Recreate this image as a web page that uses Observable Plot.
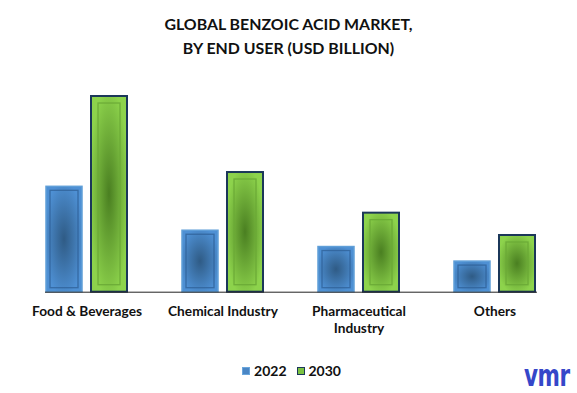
<!DOCTYPE html>
<html>
<head>
<meta charset="utf-8">
<script src="https://cdn.jsdelivr.net/npm/d3@7"></script>
<script src="https://cdn.jsdelivr.net/npm/@observablehq/plot@0.6"></script>
<style>
  html, body { margin: 0; padding: 0; background: #fff; }
  #wrap { position: relative; width: 577px; height: 393px; overflow: hidden; font-family: Lato, "Open Sans", sans-serif; color: #111; }
  #title { position: absolute; left: 0; top: 0; width: 577px; text-align: center; font-weight: 700; font-size: 15.9px; line-height: 24px; padding-top: 12px; }
  #chart { position: absolute; left: 0; top: 70px; }
  #legend { position: absolute; top: 362px; left: 0; width: 577px; display: flex; justify-content: center; align-items: center; font-weight: 700; font-size: 14px; padding-left: 6px; box-sizing: border-box; }
  .item { display: flex; align-items: center; margin: 0 5px; }
  .sw { width: 8px; height: 8px; margin-right: 4px; box-sizing: border-box; }
  #logo { position: absolute; left: 522px; top: 340px; }
</style>
</head>
<body>
<div id="wrap">
  <div id="title">GLOBAL BENZOIC ACID MARKET,<br>BY END USER (USD BILLION)</div>
  <div id="chart"></div>
  <div id="legend"></div>
  <svg id="logo" width="54" height="53"><text transform="translate(2,45.5) scale(1,1.4)" font-family="DejaVu Sans" font-weight="700" font-size="21.5" letter-spacing="-0.5" fill="#3547c9">vmr</text></svg>
</div>
<script>
const categories = ["Food & Beverages", "Chemical Industry", "Pharmaceutical Industry", "Others"];
const tickLabels = ["Food & Beverages", "Chemical Industry", "Pharmaceutical\nIndustry", "Others"];
const years = ["2022", "2030"];
const values2022 = [0.42, 0.245, 0.18, 0.122];
const values2030 = [0.78, 0.477, 0.315, 0.226];

const rows = [];
categories.forEach((c, i) => {
  rows.push({category: c, year: years[0], value: values2022[i]});
  rows.push({category: c, year: years[1], value: values2030[i]});
});
const rows2022 = rows.filter(d => d.year === years[0]);
const rows2030 = rows.filter(d => d.year === years[1]);

const plot = Plot.plot({
  width: 577,
  height: 280,
  marginTop: 26,
  marginBottom: 58.3,
  marginLeft: 17,
  marginRight: 13.5,
  style: {fontFamily: "Lato, 'Open Sans', sans-serif", fontSize: "13.7px", fontWeight: 700, color: "#111", background: "transparent"},
  fx: {domain: categories, paddingInner: 0.388, paddingOuter: 0.194, axis: null},
  x: {domain: years, paddingInner: 0.19, paddingOuter: 0, axis: null},
  y: {domain: [0, d3.max(values2030)], axis: null},
  marks: [
    Plot.barY(rows2022, {fx: "category", x: "year", y: "value", inset: 0, fill: "url(#grad2022)", stroke: "#5f9fd8", strokeWidth: 1.5}),
    Plot.barY(rows2022, {fx: "category", x: "year", y: "value", inset: 4, fill: "none", stroke: "#2f6299", strokeWidth: 1.3, strokeOpacity: 0.8}),
    Plot.barY(rows2030, {fx: "category", x: "year", y: "value", inset: 0, fill: "url(#grad2030)", stroke: "#1b3759", strokeWidth: 2}),
    Plot.barY(rows2030, {fx: "category", x: "year", y: "value", inset: 7, fill: "none", stroke: "#6aaa36", strokeWidth: 1.3, strokeOpacity: 0.9}),
    Plot.frame({facet: "super", anchor: "bottom", stroke: "#222", strokeWidth: 1}),
    Plot.axisFx({anchor: "bottom", tickSize: 0, tickPadding: 11.8, label: null, fontSize: 13.7, lineHeight: 1.24,
      tickFormat: d => tickLabels[categories.indexOf(d)]})
  ]
});

const svg = d3.select(plot);
const defs = svg.insert("defs", ":first-child");
const g1 = defs.append("radialGradient").attr("id", "grad2022").attr("cx", "50%").attr("cy", "50%").attr("r", "55%");
g1.append("stop").attr("offset", "0%").attr("stop-color", "#2f5b85");
g1.append("stop").attr("offset", "100%").attr("stop-color", "#4e90d4");
const g2 = defs.append("radialGradient").attr("id", "grad2030").attr("cx", "50%").attr("cy", "50%").attr("r", "55%");
g2.append("stop").attr("offset", "0%").attr("stop-color", "#4a7f21");
g2.append("stop").attr("offset", "100%").attr("stop-color", "#8dd34c");

document.getElementById("chart").appendChild(plot);

const legend = d3.select("#legend");
const swatches = [{label: years[0], fill: "#4a86c5", stroke: "#6aa6dc"}, {label: years[1], fill: "#7cc242", stroke: "#1b3759"}];
swatches.forEach(s => {
  const item = legend.append("div").attr("class", "item");
  item.append("div").attr("class", "sw").style("background", s.fill).style("border", `1.5px solid ${s.stroke}`);
  item.append("span").text(s.label);
});
</script>
</body>
</html>
